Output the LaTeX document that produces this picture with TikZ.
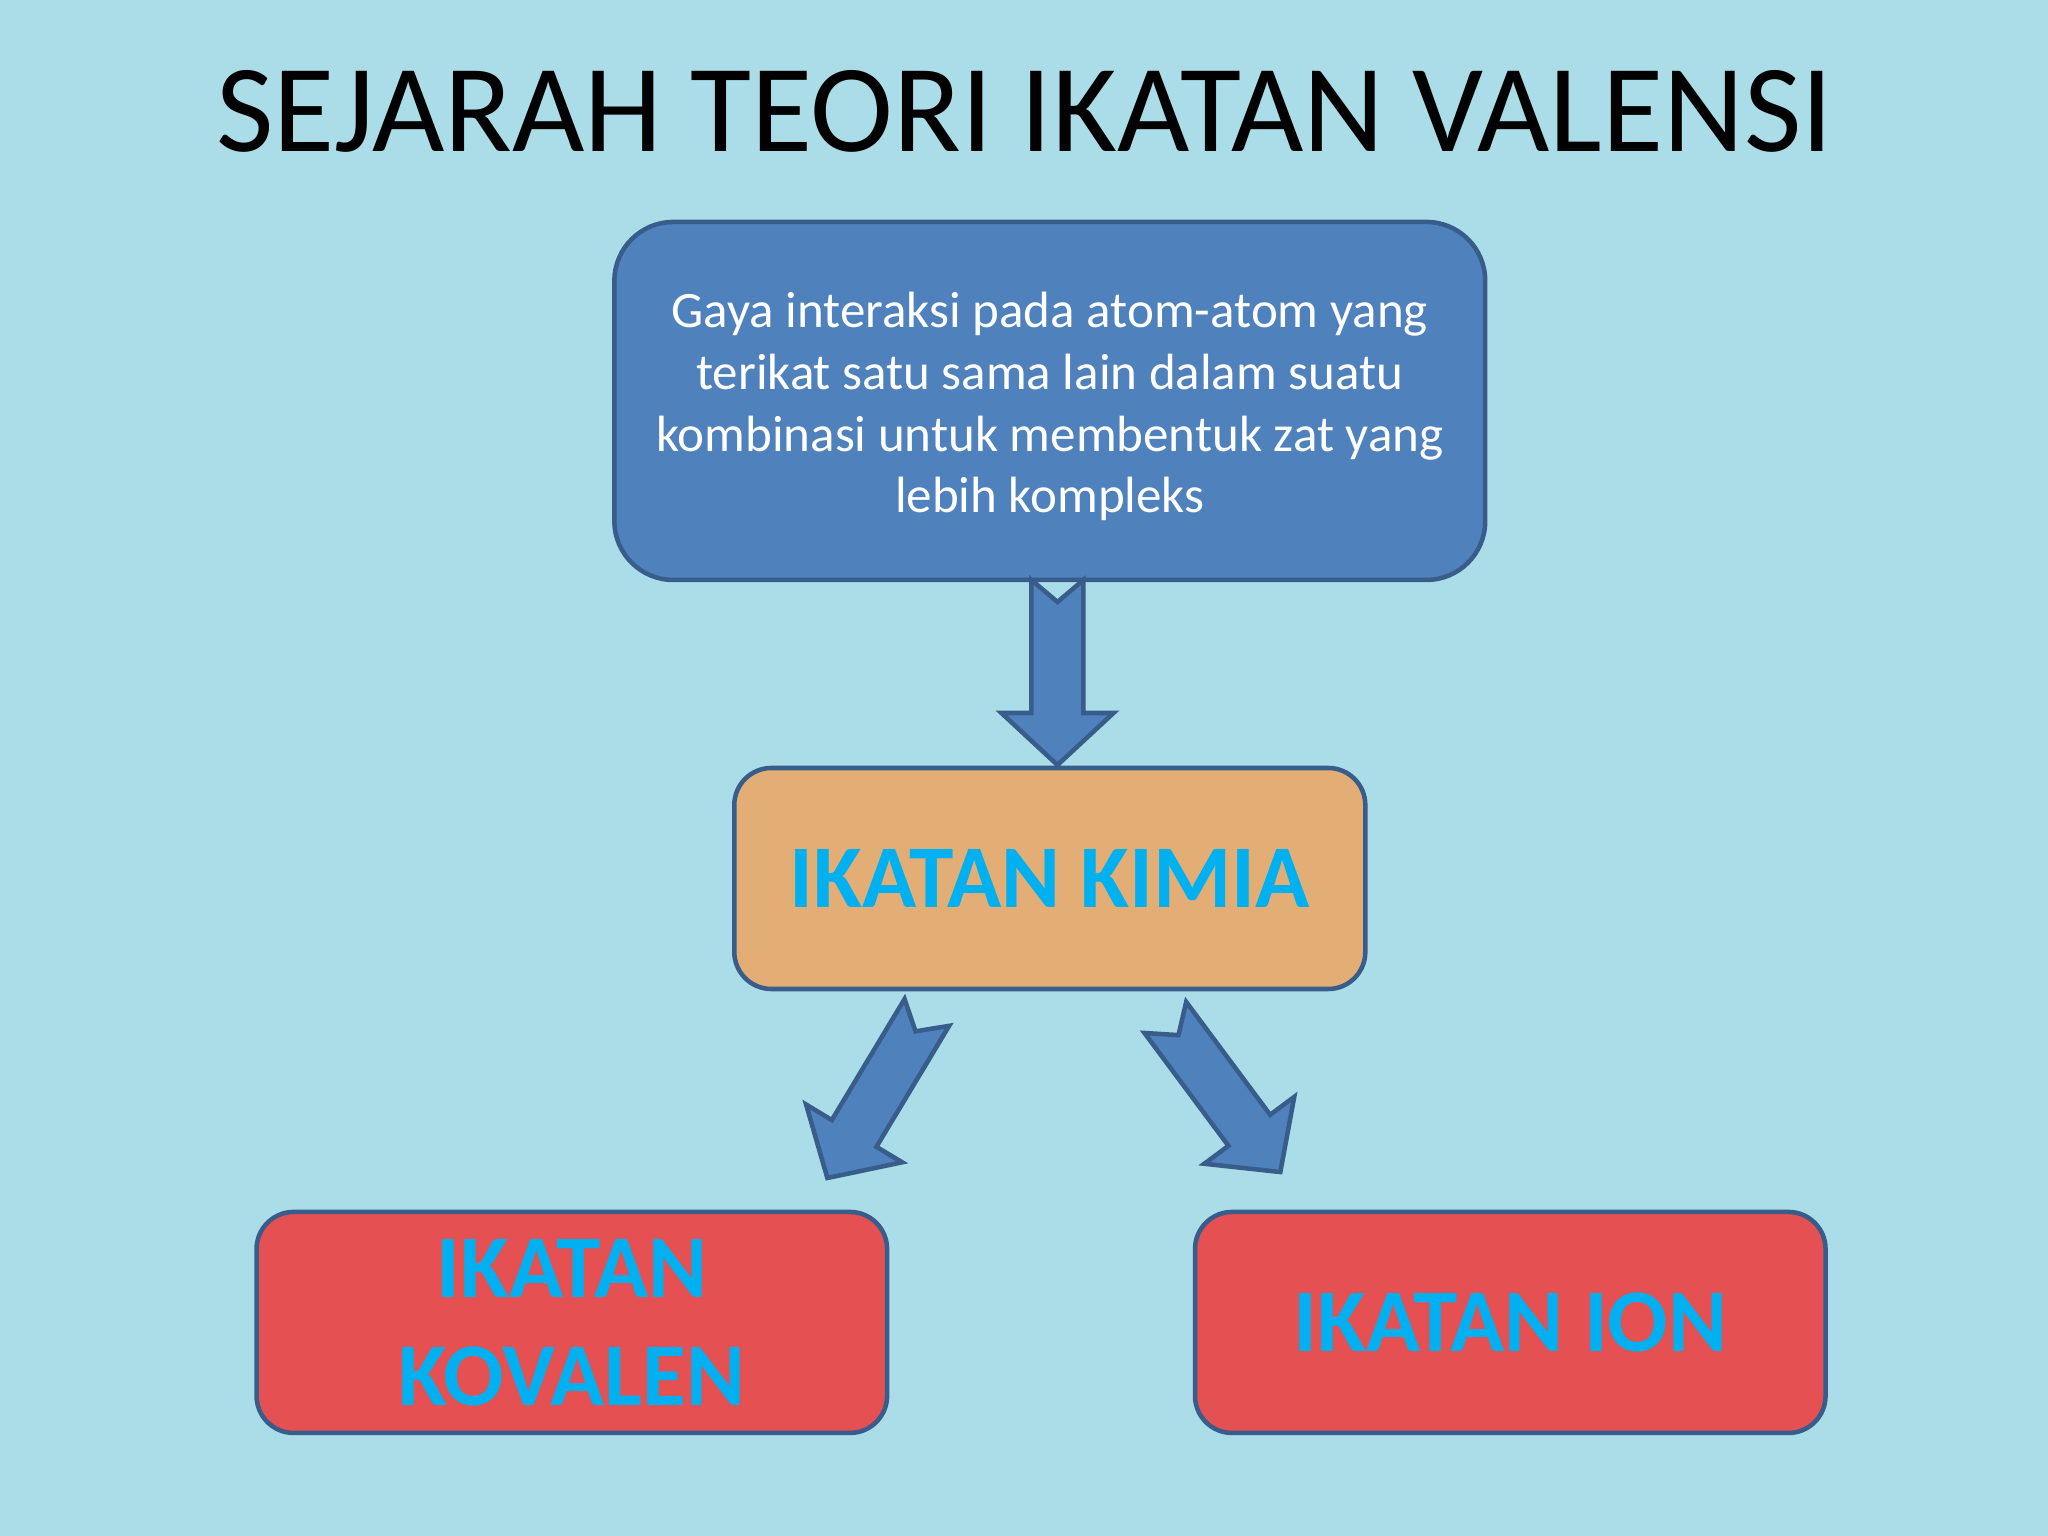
\documentclass[tikz,border=0pt]{standalone}
\usepackage{fontspec}
\setmainfont{Carlito}
\usepackage{xcolor}
\usepackage{tikz}
\usetikzlibrary{calc}
\usetikzlibrary{positioning}

\definecolor{water}{RGB}{170,221,231}
\definecolor{boxblue}{RGB}{79,129,189}
\definecolor{edgeblue}{RGB}{56,93,138}
\definecolor{sand}{RGB}{226,174,118}
\definecolor{brick}{RGB}{229,80,82}
\definecolor{cyantext}{RGB}{0,176,240}

% block arrow with a notched tail, from #1 (tail) to #2 (tip)
\newcommand{\fatarrow}[2]{%
  \coordinate (base) at ($(#2)!0.645cm!(#1)$);
  \draw[arrowbody] ($(#1)!0.3225cm!90:(#2)$) -- ($(#1)!0.273cm!(#2)$)
    -- ($(#1)!0.3225cm!-90:(#2)$) -- ($(base)!0.3225cm!-90:(#2)$)
    -- ($(base)!0.695cm!-90:(#2)$) -- (#2) -- ($(base)!0.695cm!90:(#2)$)
    -- ($(base)!0.3225cm!90:(#2)$) -- cycle;}

\begin{document}
\begin{tikzpicture}[node distance=2cm, semithick]
	\tikzstyle{every node}=[outer sep=0pt]
	\tikzstyle{title}=[font=\fontsize{44.1}{53}\selectfont, text=black]
	\tikzstyle{defbox}=[draw=edgeblue, line width=1.6pt, fill=boxblue, rounded corners=0.73cm,
		minimum width=10.8cm, minimum height=4.44cm, align=center, text=white,
		font=\fontsize{18}{21.8}\selectfont]
	\tikzstyle{kimiabox}=[draw=edgeblue, line width=1.6pt, fill=sand, rounded corners=0.46cm,
		minimum width=7.826cm, minimum height=2.741cm, align=center, text=cyantext,
		font=\fontsize{31.6}{38}\selectfont\bfseries]
	\tikzstyle{redbox}=[kimiabox, fill=brick, minimum width=7.82cm]
	\tikzstyle{arrowbody}=[draw=edgeblue, line width=1.6pt, fill=boxblue, line join=miter]

	\useasboundingbox (0,0) rectangle (25.4,19.05);
	\fill[water] (0,0) rectangle (25.4,19.05);

	\node[title, anchor=base] (title) at (12.706,17.165) {SEJARAH TEORI IKATAN VALENSI};
	\node[defbox] (def) at (13.02,14.077) {\rule{0pt}{16.5pt}Gaya interaksi pada atom-atom yang\\
		terikat satu sama lain dalam suatu\\ kombinasi untuk membentuk zat yang\\ lebih kompleks};
	\node[kimiabox] (kimia) [below=2.332cm of def] {IKATAN KIMIA};
	\node[redbox] (kovalen) [below=2.765cm of kimia, xshift=-5.928cm] {IKATAN\\ KOVALEN};
	\node[redbox] (ion) [below=2.765cm of kimia, xshift=5.711cm] {IKATAN ION};

	\coordinate (d1) at ($(def.south)+(0.095,0)$);
	\coordinate (d2) at ($(kimia.north)+(0.095,0.037)$);
	\coordinate (l1) at ($(kimia.south)+(-1.525,-0.291)$);
	\coordinate (l2) at ($(kovalen.north)+(3.169,0.421)$);
	\coordinate (r1) at ($(kimia.south)+(1.433,-0.353)$);
	\coordinate (r2) at ($(ion.north)+(-2.852,0.495)$);

	\fatarrow{d1}{d2}
	\fatarrow{l1}{l2}
	\fatarrow{r1}{r2}
\end{tikzpicture}
\end{document}
